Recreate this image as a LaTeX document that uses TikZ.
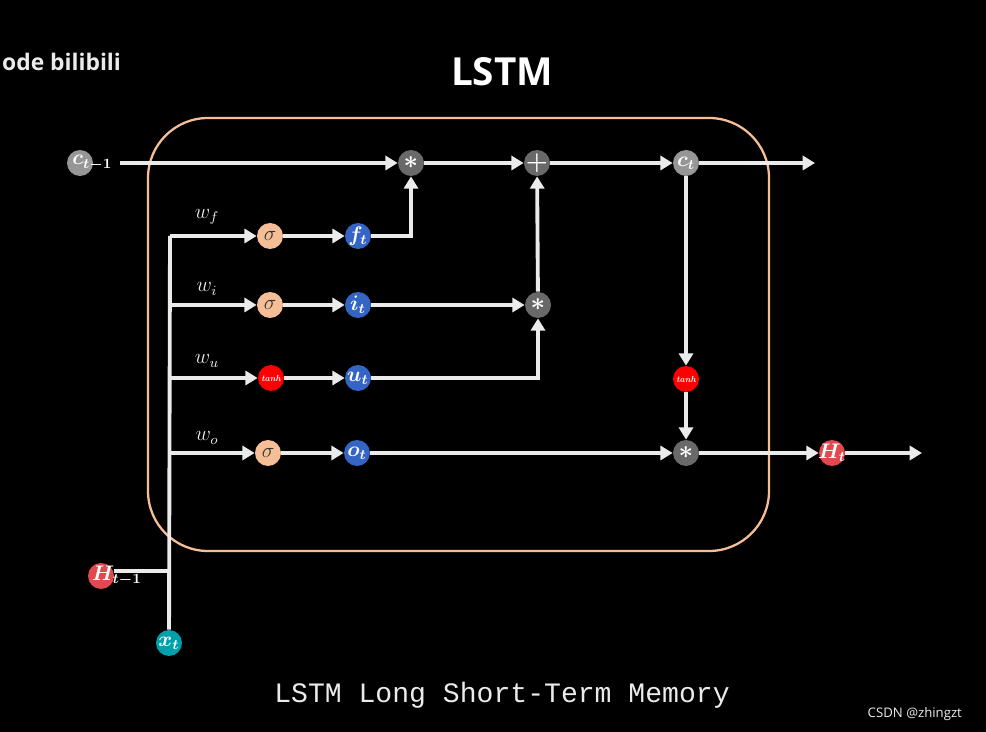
\documentclass[tikz,border=0pt]{standalone}
\usepackage{amsmath}
\usepackage{amssymb}
\usepackage{fontspec}
\newfontfamily\titlefont{Open Sans}
\newfontfamily\monofont{Liberation Mono}
\usetikzlibrary{arrows.meta}
\definecolor{peach}{RGB}{246,190,150}
\definecolor{gateblue}{RGB}{52,100,196}
\definecolor{opgray}{RGB}{105,105,105}
\definecolor{cgray}{RGB}{150,150,150}
\definecolor{hred}{RGB}{226,72,80}
\definecolor{xteal}{RGB}{0,160,170}
\definecolor{wire}{RGB}{235,235,235}
\tikzset{
	dot/.style={circle,inner sep=0pt,minimum size=0.52cm,text=white,font=\large},
	wire/.style={draw=wire,line width=2.2pt},
	arr/.style={wire,-{Triangle[length=7pt,width=8pt]}},
	wlab/.style={text=wire,font=\large},
}
\newcommand{\gate}[4]{\node[dot,fill=#4](#1) at (#2) {\makebox[0pt]{#3}};}
\begin{document}
\begin{tikzpicture}[x=0.02cm,y=-0.02cm]
	\fill[black] (0,0) rectangle (986,732);
	\useasboundingbox (0,0) rectangle (986,732);
	% frame and titles
	\draw[peach,line width=1.3pt,rounded corners=1.2cm] (148,118) rectangle (769,551);
	\node[text=white,font=\titlefont\bfseries\fontsize{22}{22}\selectfont] (title) at (502,72) {LSTM};
	\node[text=wire,font=\monofont\fontsize{16}{16}\selectfont] (caption) at (502,695) {LSTM Long Short-Term Memory};
	\node[text=wire,font=\titlefont\bfseries\fontsize{13}{13}\selectfont,anchor=west] (wm) at (-4,62) {ode bilibili};
	\node[text=wire,font=\titlefont\fontsize{7.5}{7.5}\selectfont,anchor=east] (csdn) at (968,714) {CSDN @zhingzt};
	% nodes
	\gate{cprev}{80,163}{\hspace{14pt}$\boldsymbol{c_{t-1}}$}{cgray}
	\gate{mulf}{411,163}{\Large$\boldsymbol{*}$}{opgray}
	\gate{plus}{537,163}{\Large$\boldsymbol{+}$}{opgray}
	\gate{ct}{686,163}{$\boldsymbol{c_t}$}{cgray}
	\gate{sf}{270,236}{\color{black!80}$\sigma$}{peach}
	\gate{ft}{358,236}{$\boldsymbol{f_t}$}{gateblue}
	\gate{si}{270,305}{\color{black!80}$\sigma$}{peach}
	\gate{it}{358,305}{$\boldsymbol{i_t}$}{gateblue}
	\gate{tu}{271,378}{\tiny\itshape\bfseries tanh}{red}
	\gate{ut}{358,378}{$\boldsymbol{u_t}$}{gateblue}
	\gate{so}{268,453}{\color{black!80}$\sigma$}{peach}
	\gate{ot}{357,453}{$\boldsymbol{o_t}$}{gateblue}
	\gate{muli}{538,305}{\Large$\boldsymbol{*}$}{opgray}
	\gate{tc}{686,379}{\tiny\itshape\bfseries tanh}{red}
	\gate{mulo}{686,453}{\Large$\boldsymbol{*}$}{opgray}
	\gate{ht}{832,453}{$\boldsymbol{H_t}$}{hred}
	\gate{hprev}{101,576}{\hspace{18pt}$\boldsymbol{H_{t-1}}$}{hred}
	\gate{xt}{169,643}{$\boldsymbol{x_t}$}{xteal}
	\coordinate (cout) at (815,163);
	\coordinate (hout) at (922,453);
	\coordinate (top) at (170,236);
	\coordinate (hstub) at (114,571);
	\coordinate (join) at (170,571);
	% input trunk
	\draw[wire] (xt) -- (top);
	\draw[wire] (hstub) -- (join);
	\foreach \g/\y in {si/305,tu/378,so/453}
		\draw[arr] (170,\y) -- (\g);
	\draw[arr] (top) -- (sf);
	\node[wlab] (wf) at (207,217) {$w_f$};
	\node[wlab] (wi) at (207,289) {$w_i$};
	\node[wlab] (wu) at (207,361) {$w_u$};
	\node[wlab] (wo) at (207,438) {$w_o$};
	% gates
	\draw[arr] (sf) -- (ft);
	\draw[arr] (si) -- (it);
	\draw[arr] (tu) -- (ut);
	\draw[arr] (so) -- (ot);
	% cell path
	\draw[arr] ([xshift=15pt]cprev.east) -- (mulf);
	\draw[arr] (ft) -| (mulf);
	\draw[arr] (mulf) -- (plus);
	\draw[arr] (it) -- (muli);
	\draw[arr] (ut) -| (muli);
	\draw[arr] (muli) -- (plus);
	\draw[arr] (plus) -- (ct);
	\draw[arr] (ct) -- (cout);
	\draw[arr] (ct) -- (tc);
	\draw[arr] (tc) -- (mulo);
	\draw[arr] (ot) -- (mulo);
	\draw[arr] (mulo) -- (ht);
	\draw[arr] (ht) -- (hout);
\end{tikzpicture}
\end{document}
